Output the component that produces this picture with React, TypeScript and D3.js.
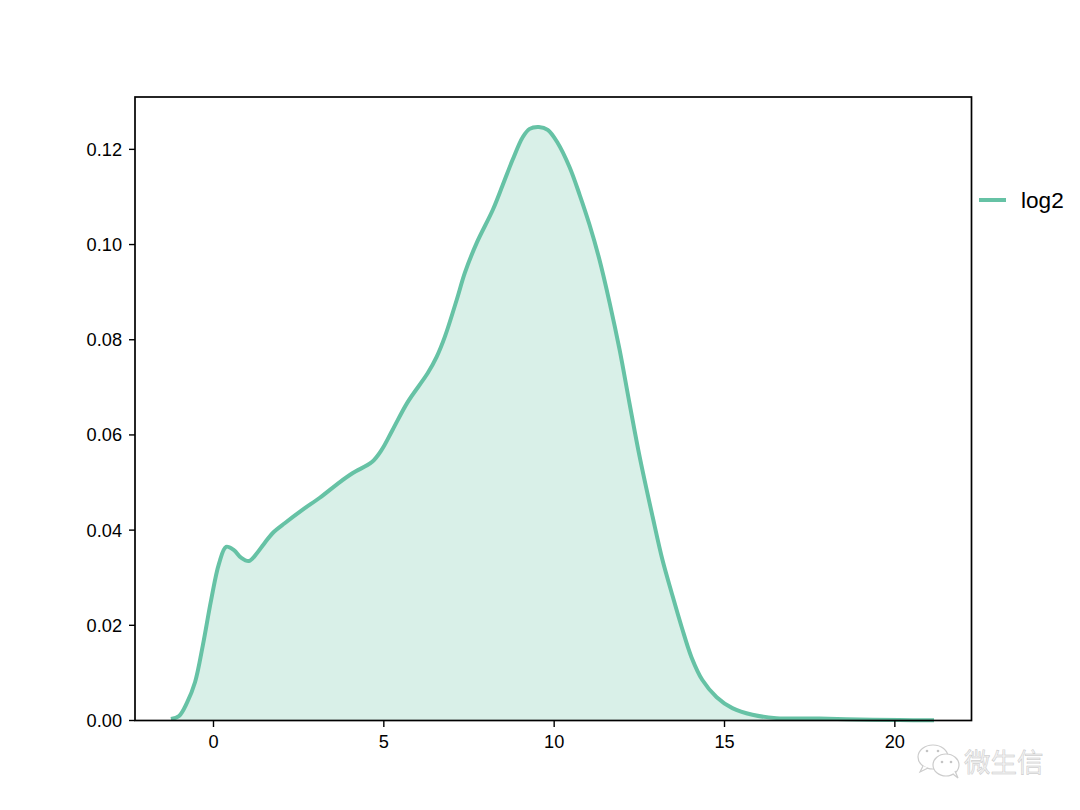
import React from "react";
import * as d3 from "d3";

const xValues = [-1.25,-1.01,-0.78,-0.54,-0.31,-0.07,0.16,0.37,0.6,0.81,1.04,1.28,1.48,1.74,2.1,2.62,3.12,3.71,4.09,4.65,4.94,5.26,5.7,6.29,6.55,6.79,7.14,7.38,7.73,8.2,8.49,8.78,9.08,9.28,9.55,9.81,10.1,10.45,10.75,11.04,11.33,11.63,11.92,12.21,12.51,12.89,13.18,13.45,13.74,14.03,14.35,14.77,15.23,15.82,16.52,17.79,18.96,20.13,21.15];
const density = [0.0003,0.00095,0.0037,0.0081,0.0159,0.0253,0.0329,0.0365,0.0358,0.0342,0.0335,0.0352,0.0371,0.0394,0.0415,0.0443,0.0468,0.0501,0.052,0.0543,0.0569,0.0611,0.0669,0.073,0.0764,0.0806,0.0884,0.0941,0.1004,0.1073,0.1125,0.1178,0.1226,0.1243,0.1247,0.1241,0.1214,0.1163,0.1104,0.1041,0.0968,0.0877,0.0779,0.0667,0.0554,0.0428,0.0337,0.0268,0.0197,0.0133,0.0085,0.0049,0.0026,0.0012,0.0005,0.0004,0.0002,0.0001,0.00005];
const xTicks = [0, 5, 10, 15, 20];
const yTicks = [0, 0.02, 0.04, 0.06, 0.08, 0.1, 0.12];
const seriesName = "log2";
const watermark = "微生信";

const COLOR = "#66c2a5";
const FONT = "'Liberation Sans', Arial, sans-serif";

export default function App() {
  const x = d3.scaleLinear().domain([-2.304, 22.25]).range([135, 971.5]);
  const y = d3.scaleLinear().domain([0, 0.131]).range([720.5, 97]);
  const pts: [number, number][] = xValues.map((v, i) => [v, density[i]]);
  const curve = d3.curveCatmullRom.alpha(0.5);
  const line = d3.line<[number, number]>().x(d => x(d[0])).y(d => y(d[1])).curve(curve);
  const area = d3.area<[number, number]>().x(d => x(d[0])).y0(y(0)).y1(d => Math.min(y(0), y(d[1]))).curve(curve);
  return (
    <svg width={1080} height={810} style={{ position: "absolute", left: 0, top: 0, background: "#fff" }} fontFamily={FONT}>
      <path d={area(pts) ?? ""} fill={COLOR} fillOpacity={0.25} />
      <path d={line(pts) ?? ""} fill="none" stroke={COLOR} strokeWidth={4} />
      <rect x={135} y={97} width={836.5} height={623.5} fill="none" stroke="#000" strokeWidth={1.7} />
      {xTicks.map(t => (
        <g key={t}>
          <line x1={x(t)} x2={x(t)} y1={720.5} y2={727} stroke="#000" strokeWidth={1.4} />
          <text x={x(t)} y={747.5} textAnchor="middle" fontSize={18.2} fill="#000">{t}</text>
        </g>
      ))}
      {yTicks.map(t => (
        <g key={t}>
          <line x1={129} x2={135} y1={y(t)} y2={y(t)} stroke="#000" strokeWidth={1.4} />
          <text x={122} y={y(t) + 6.5} textAnchor="end" fontSize={18.2} fill="#000">{t.toFixed(2)}</text>
        </g>
      ))}
      <line x1={979} x2={1006} y1={200} y2={200} stroke={COLOR} strokeWidth={4} />
      <text x={1021} y={208} fontSize={22.6} fill="#000">{seriesName}</text>
      <g fill="#fff" stroke="#cccccc" strokeWidth={1.2}>
        <ellipse cx={933} cy={757} rx={15} ry={12} />
        <path d="M923 766 L920 772 L928 768" />
        <ellipse cx={946} cy={765} rx={13} ry={11} />
        <path d="M953 774 L958 778 L955 771" />
      </g>
      <g fill="#c4c4c4">
        <circle cx={927} cy={751} r={1.3} /><circle cx={938} cy={751} r={1.3} />
        <circle cx={942} cy={762} r={1.3} /><circle cx={951} cy={762} r={1.3} />
      </g>
      <text x={964} y={772} fontSize={26.5} fontFamily="'Noto Sans CJK SC'" fill="#f2f2f2" stroke="#c4c4c4" strokeWidth={0.45}>{watermark}</text>
    </svg>
  );
}
